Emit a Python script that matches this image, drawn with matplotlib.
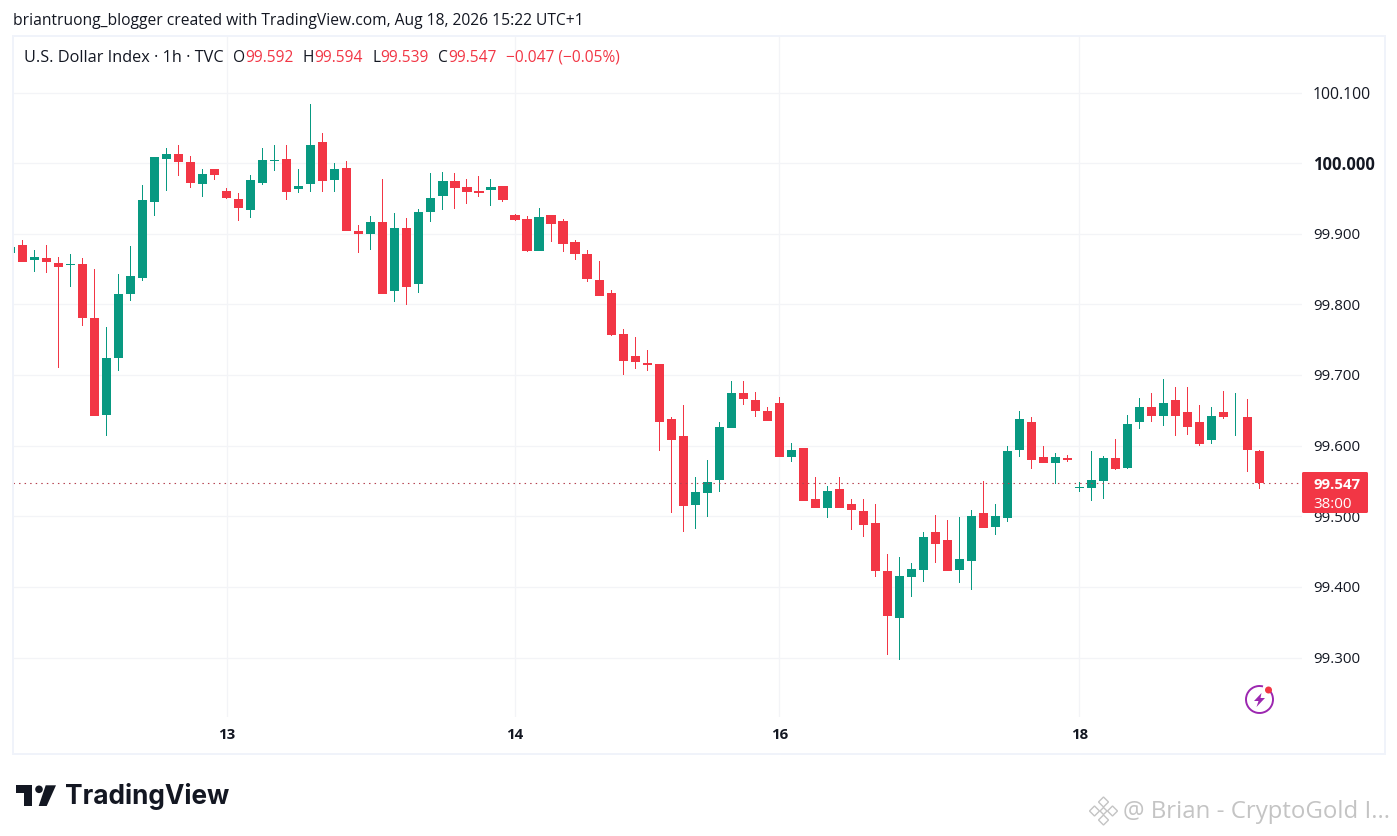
import matplotlib
matplotlib.use('Agg')
import matplotlib.pyplot as plt
from matplotlib.patches import Polygon, Circle, Arc, Rectangle, FancyBboxPatch

# hourly candles, one list per field
opens = [99.873, 99.884, 99.863, 99.865, 99.859, 99.856, 99.857, 99.781, 99.644, 99.724,
         99.815, 99.838, 99.945, 100.006, 100.013, 100.002, 99.971, 99.991, 99.961, 99.949,
         99.934, 99.972, 100.003, 100.006, 99.964, 99.971, 100.030, 99.976, 99.993, 99.904,
         99.900, 99.916, 99.819, 99.908, 99.829, 99.931, 99.954, 99.975, 99.966, 99.961,
         99.962, 99.968, 99.927, 99.921, 99.876, 99.927, 99.918, 99.889, 99.872, 99.835,
         99.816, 99.758, 99.727, 99.717, 99.716, 99.637, 99.613, 99.516, 99.533, 99.552,
         99.625, 99.674, 99.665, 99.649, 99.661, 99.584, 99.596, 99.525, 99.512, 99.539,
         99.518, 99.508, 99.491, 99.422, 99.356, 99.414, 99.424, 99.477, 99.467, 99.424,
         99.437, 99.505, 99.485, 99.497, 99.594, 99.634, 99.584, 99.576, 99.582, 99.540,
         99.540, 99.550, 99.582, 99.569, 99.633, 99.655, 99.642, 99.664, 99.648, 99.633,
         99.608, 99.647, 99.640, 99.640, 99.592]
highs = [99.885, 99.891, 99.877, 99.884, 99.867, 99.872, 99.865, 99.850, 99.768, 99.843,
         99.882, 99.969, 100.008, 100.022, 100.025, 100.010, 99.992, 99.992, 99.965, 99.957,
         99.983, 100.022, 100.025, 100.026, 99.991, 100.084, 100.042, 100.000, 100.003, 99.913,
         99.925, 99.978, 99.930, 99.923, 99.935, 99.986, 99.988, 99.986, 99.978, 99.982,
         99.978, 99.968, 99.928, 99.925, 99.937, 99.927, 99.921, 99.891, 99.877, 99.862,
         99.821, 99.765, 99.754, 99.736, 99.716, 99.641, 99.657, 99.555, 99.579, 99.634,
         99.691, 99.691, 99.676, 99.655, 99.669, 99.604, 99.596, 99.555, 99.543, 99.556,
         99.525, 99.525, 99.518, 99.447, 99.443, 99.434, 99.477, 99.502, 99.494, 99.499,
         99.509, 99.550, 99.518, 99.600, 99.649, 99.641, 99.599, 99.589, 99.587, 99.548,
         99.593, 99.586, 99.610, 99.644, 99.668, 99.675, 99.695, 99.683, 99.683, 99.657,
         99.654, 99.678, 99.675, 99.666, 99.594]
lows = [99.870, 99.860, 99.846, 99.845, 99.710, 99.825, 99.770, 99.642, 99.614, 99.705,
        99.805, 99.833, 99.925, 99.961, 99.982, 99.965, 99.952, 99.976, 99.949, 99.918,
        99.923, 99.969, 99.989, 99.948, 99.957, 99.959, 99.959, 99.959, 99.904, 99.873,
        99.877, 99.814, 99.804, 99.799, 99.816, 99.916, 99.934, 99.935, 99.942, 99.952,
        99.940, 99.945, 99.918, 99.874, 99.876, 99.889, 99.874, 99.863, 99.832, 99.812,
        99.755, 99.700, 99.709, 99.705, 99.593, 99.504, 99.477, 99.482, 99.499, 99.535,
        99.625, 99.657, 99.641, 99.635, 99.584, 99.577, 99.522, 99.511, 99.498, 99.512,
        99.481, 99.470, 99.414, 99.303, 99.296, 99.386, 99.407, 99.434, 99.422, 99.406,
        99.396, 99.484, 99.474, 99.492, 99.584, 99.567, 99.576, 99.546, 99.577, 99.535,
        99.522, 99.525, 99.566, 99.567, 99.623, 99.633, 99.628, 99.614, 99.615, 99.599,
        99.603, 99.638, 99.613, 99.562, 99.539]
closes = [99.881, 99.860, 99.867, 99.860, 99.853, 99.857, 99.781, 99.642, 99.724, 99.814,
          99.840, 99.948, 100.008, 100.013, 100.002, 99.972, 99.985, 99.983, 99.951, 99.937,
          99.976, 100.005, 100.005, 99.959, 99.968, 100.026, 99.975, 99.991, 99.904, 99.900,
          99.916, 99.815, 99.908, 99.825, 99.931, 99.951, 99.974, 99.965, 99.959, 99.957,
          99.966, 99.948, 99.920, 99.876, 99.924, 99.914, 99.886, 99.872, 99.836, 99.812,
          99.757, 99.720, 99.719, 99.714, 99.634, 99.608, 99.515, 99.535, 99.549, 99.627,
          99.674, 99.666, 99.649, 99.635, 99.584, 99.594, 99.522, 99.511, 99.536, 99.512,
          99.509, 99.488, 99.422, 99.359, 99.416, 99.426, 99.470, 99.461, 99.422, 99.439,
          99.501, 99.484, 99.501, 99.593, 99.638, 99.580, 99.576, 99.584, 99.580, 99.542,
          99.552, 99.583, 99.567, 99.630, 99.654, 99.642, 99.661, 99.642, 99.627, 99.603,
          99.642, 99.641, 99.641, 99.594, 99.547]

price_ticks = [99.3, 99.4, 99.5, 99.6, 99.7, 99.8, 99.9, 100.0, 100.1]
day_positions = [18, 42, 64, 89]
day_labels = ['13', '14', '16', '18']
last_price = 99.547

W, H = 1397, 836
UP = '#089981'
DOWN = '#F23645'
TEXT = '#131722'
BORDER = '#F0F3FA'
GRID = '#F3F4F7'
FONT = 'Open Sans'


def pt(px):
    return px * 0.72


fig = plt.figure(figsize=(W / 100, H / 100), dpi=100, facecolor='white')

# chart pane, in pixels: x 13-1302, y 36-717
left, right, top, bottom = 13, 1302, 36, 717
bar_step = 12.0096
ax = fig.add_axes([left / W, 1 - bottom / H, (right - left) / W, (bottom - top) / H])
ax.set_xlim((left - 10.6) / bar_step, (right - 10.6) / bar_step)
ax.set_ylim(99.3 + (657.5 - bottom) / 706.25, 99.3 + (657.5 - top) / 706.25)

for s in ax.spines.values():
    s.set_visible(False)
ax.yaxis.tick_right()
ax.set_yticks(price_ticks)
ax.set_yticklabels(['%.3f' % p for p in price_ticks], fontsize=pt(15), color=TEXT, family=FONT)
ax.set_xticks(day_positions)
ax.set_xticklabels(day_labels, fontsize=pt(15), color=TEXT, family=FONT, fontweight='bold')
ax.tick_params(axis='both', length=0)
ax.tick_params(axis='y', pad=pt(11))
ax.tick_params(axis='x', pad=pt(11))
for lab, p in zip(ax.get_yticklabels(), price_ticks):
    if p == 100.0:
        lab.set_fontweight('bold')
        lab.set_fontsize(pt(16.5))
    if p == 100.1:
        lab.set_fontsize(pt(15.8))
ax.grid(True, color=GRID, linewidth=0.9)
ax.set_axisbelow(True)

colors = [UP if c >= o else DOWN for o, c in zip(opens, closes)]
xs = list(range(len(opens)))
# wicks as 1px wide bars, thin lines came out grey
wick_h = [h - l for h, l in zip(highs, lows)]
ax.bar(xs, wick_h, bottom=lows, width=1 / bar_step, color=colors, linewidth=0, zorder=3)
body_low = [min(o, c) for o, c in zip(opens, closes)]
body_h = [max(abs(c - o), 0.0012) for o, c in zip(opens, closes)]
ax.bar(xs, body_h, bottom=body_low, width=0.76, color=colors, linewidth=0, zorder=4)

ax.axhline(last_price, color='#B5404E', linewidth=0.8, dashes=(1.3, 3.7), zorder=5)

# everything around the chart goes on an overlay in pixel coordinates
ov = fig.add_axes([0, 0, 1, 1], zorder=5)
ov.set_xlim(0, W)
ov.set_ylim(H, 0)
ov.axis('off')
ov.patch.set_alpha(0)

ov.add_patch(Rectangle((13, 36), 1372, 718, fill=False, edgecolor=BORDER, linewidth=1.4))


def label(x, y, s, color=TEXT, size=14, **kw):
    kw.setdefault('family', FONT)
    ov.text(x, y, s, color=color, fontsize=pt(size), va='center', ha='left', **kw)


label(13, 21, 'briantruong_blogger created with TradingView.com, Aug 18, 2026 15:22 UTC+1', size=15.6)
label(24, 58, 'U.S. Dollar Index · 1h · TVC', size=16.2)
legend_parts = [(233, 'O', TEXT), (245, '99.592', DOWN), (303, 'H', TEXT), (314, '99.594', DOWN),
                (372, 'L', TEXT), (380, '99.539', DOWN), (438, 'C', TEXT), (448, '99.547', DOWN),
                (506, '−0.047 (−0.05%)', DOWN)]
for x, s, c in legend_parts:
    label(x, 58, s, c, size=15.5)

# last price tag
ov.add_patch(FancyBboxPatch((1303, 473), 64, 39, boxstyle='round,pad=1,rounding_size=1.5',
                            facecolor=DOWN, edgecolor='none'))
label(1313, 485, '99.547', 'white', size=15, fontweight='bold')
label(1313, 505, '38:00', 'white', size=15)

# TradingView logo
ov.add_patch(Polygon([(15.7, 785.3), (32.3, 785.3), (32.3, 806), (24, 806), (24, 792.7), (15.7, 792.7)],
                     facecolor=TEXT, edgecolor='none'))
ov.add_patch(Circle((39, 789.3), 3.8, facecolor=TEXT, edgecolor='none'))
ov.add_patch(Polygon([(45.7, 785.3), (56, 785.3), (46.7, 806), (38.7, 806)], facecolor=TEXT, edgecolor='none'))
label(65, 797, 'TradingView', size=26.2, family='Inter', fontweight='bold')

# lightning badge
PURPLE = '#9C27B0'
ov.add_patch(Arc((1259.5, 699.5), 27, 27, theta1=-40, theta2=285, color=PURPLE, linewidth=1.4))
ov.add_patch(Polygon([(1261.5, 693), (1254, 701), (1258.5, 701), (1256.5, 707), (1265, 698), (1260.5, 698)],
                     facecolor=PURPLE, edgecolor='none'))
ov.add_patch(Circle((1268.5, 690), 3.5, facecolor=DOWN, edgecolor='none'))

# watermark
WM = '#C4C4C4'
for cx, cy, r in [(1103.5, 802, 5), (1094.5, 811, 5), (1112.5, 811, 5), (1103.5, 820, 5), (1103.5, 811, 3.5)]:
    ov.add_patch(Polygon([(cx, cy - r), (cx + r, cy), (cx, cy + r), (cx - r, cy)], closed=True,
                         facecolor='none', edgecolor=WM, linewidth=1))
label(1123, 812, '@ Brian - CryptoGold I...', WM, size=24)

fig.savefig('out.png', dpi=100)
